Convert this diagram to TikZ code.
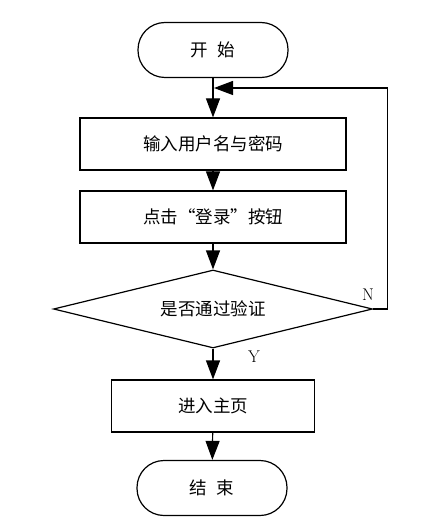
\documentclass[tikz,border=0pt]{standalone}
\usepackage{fontspec}
\newfontfamily\cjk{Noto Sans CJK SC}
\usetikzlibrary{shapes.geometric,arrows.meta}

\begin{document}
\begin{tikzpicture}[
    x=1pt, y=-1pt,
    every node/.style={font=\cjk\fontsize{17.5}{20}\selectfont},
    term/.style={draw, line width=1.2pt, rounded corners=27pt,
                 minimum width=150pt, minimum height=55pt},
    proc/.style={draw, line width=1.2pt, minimum height=52pt},
    decide/.style={draw, diamond, aspect=4.1, line width=1.2pt, inner sep=0pt,
                   minimum width=319pt, minimum height=78pt},
    lbl/.style={font=\fontsize{17}{19}\selectfont},
    flow/.style={line width=1.2pt, -{Triangle[length=19pt, width=14pt]}},
]
\useasboundingbox (0,0) rectangle (428,529);

% Steps, top to bottom
\node[term] (start) at (213,50) {开\hspace{10pt}始};
\node[proc, minimum width=266pt] (input) at (213,144) {输入用户名与密码};
\node[proc, minimum width=266pt] (click) at (213,217) {点击“登录”按钮};
\node[decide] (check) at (213,309) {是否通过验证};
\node[proc, minimum width=203pt] (home) at (213,406) {进入主页};
\node[term] (end) at (212,488) {结\hspace{10pt}束};

% Main flow
\draw[flow] (start) -- (input);
\draw[flow] (input) -- (click);
\draw[flow] (click) -- (check);
\draw[flow] (check) -- (home);
\draw[flow] (home) -- (end);

% Failed check goes back to the input step
\coordinate (back) at (214,88);
\draw[flow] (check.east) -- ++(14,0) |- (back);

% Branch labels
\node[lbl] (no) at (368,295) {N};
\node[lbl] (yes) at (254,357) {Y};

\end{tikzpicture}
\end{document}
